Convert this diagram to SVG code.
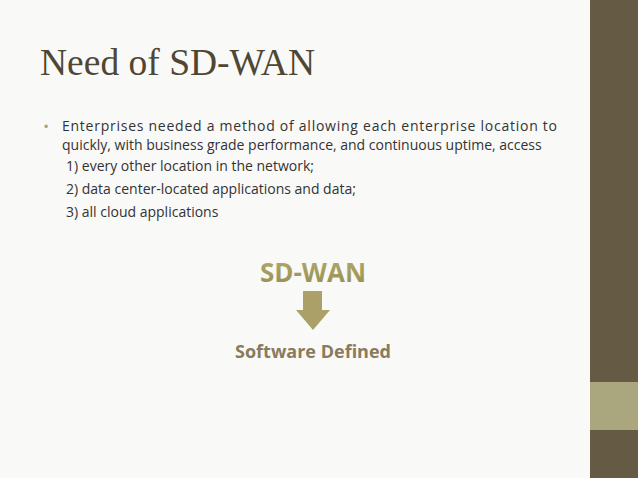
<svg xmlns="http://www.w3.org/2000/svg" width="638" height="478" viewBox="0 0 638 478">
<style>
.b{font-family:"Open Sans","Liberation Sans",sans-serif;font-size:14px;fill:#333}
</style>
<defs><linearGradient id="g" x1="0" y1="0" x2="0" y2="1"><stop offset="0" stop-color="#b4ad6a"/><stop offset="1" stop-color="#938c52"/></linearGradient></defs>
<rect width="638" height="478" fill="#f9f9f8"/>
<rect x="590" y="0" width="48" height="478" fill="#655b45"/>
<rect x="590" y="382" width="48" height="48" fill="#aaa67d"/>
<text x="40" y="75" font-family="Liberation Serif,serif" font-size="38" fill="#4f4633" textLength="275" lengthAdjust="spacingAndGlyphs">Need of SD-WAN</text>
<g id="bullets">
<text x="44" y="131" font-family="Liberation Sans,sans-serif" font-size="12" fill="#a8a46e">•</text>
<text class="b" x="62" y="131" textLength="495" lengthAdjust="spacing">Enterprises needed a method of allowing each enterprise location to</text>
<text class="b" x="62" y="150">quickly, with business grade performance, and continuous uptime, access</text>
<text class="b" x="66" y="171">1) every other location in the network;</text>
<text class="b" x="66" y="194">2) data center-located applications and data;</text>
<text class="b" x="66" y="217">3) all cloud applications</text>
</g>
<g id="sdwan"><text x="313" y="282" text-anchor="middle" font-family="Open Sans,sans-serif" font-weight="bold" font-size="26" fill="url(#g)">SD-WAN</text></g>
<g id="connectors"><polygon points="303,291 322,291 322,310 330,310 313,330 296,310 303,310" fill="#aba168"/></g>
<g id="sd"><text x="313" y="358" text-anchor="middle" font-family="Open Sans,sans-serif" font-weight="bold" font-size="18" fill="#8a7b5c">Software Defined</text></g>
</svg>
